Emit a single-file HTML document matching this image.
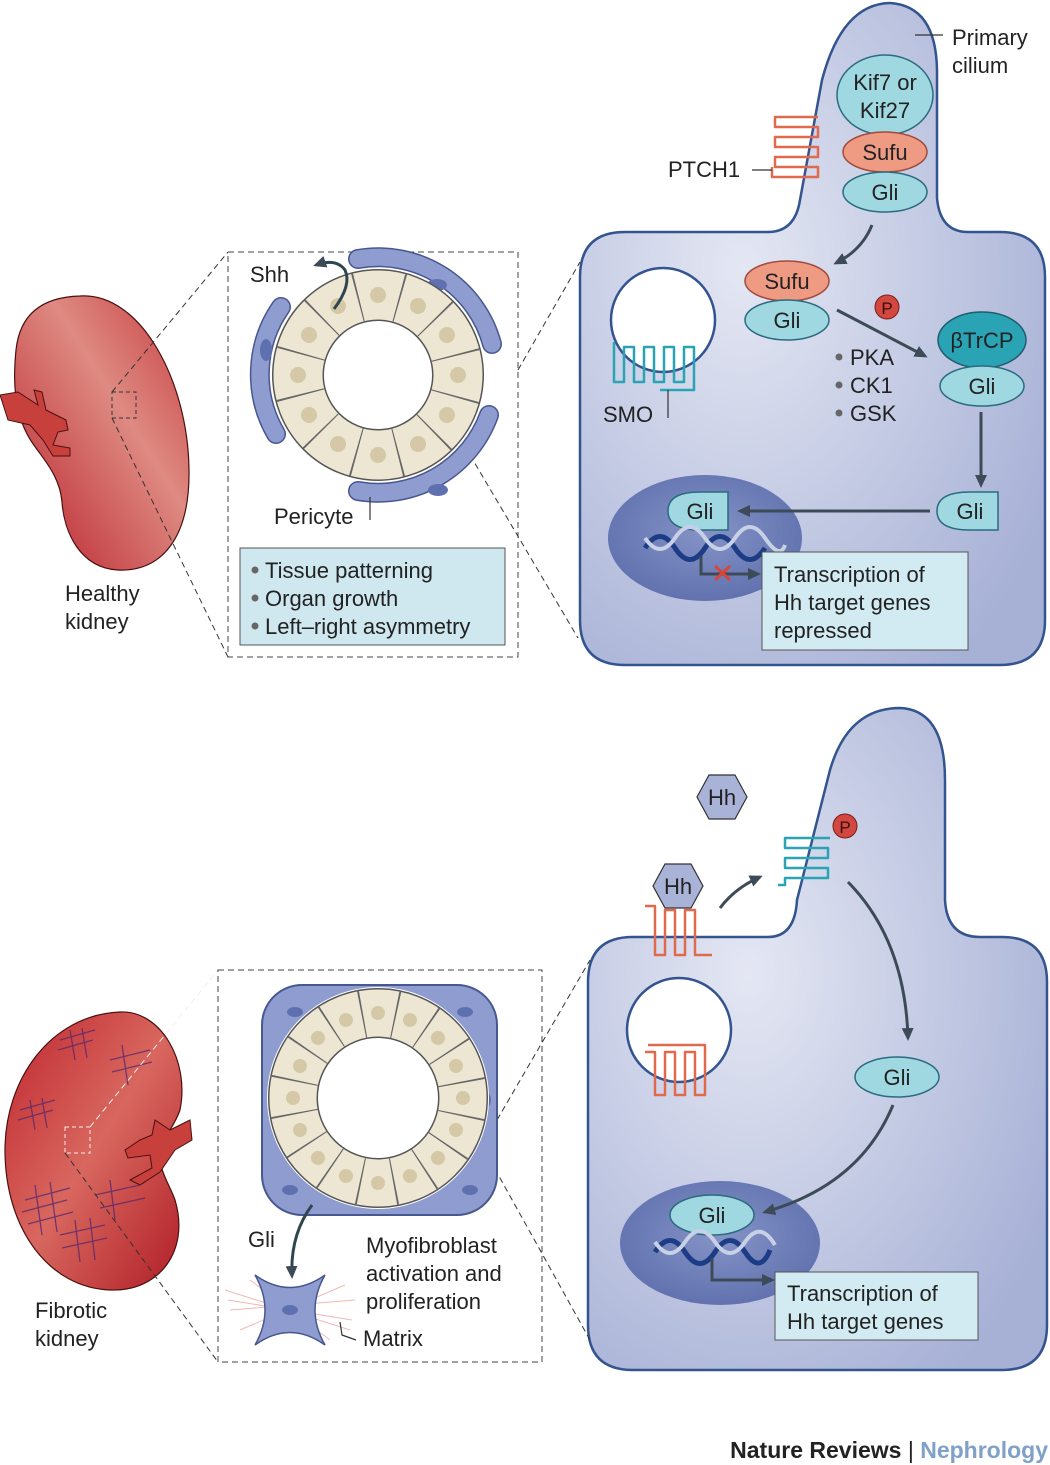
<!DOCTYPE html>
<html><head><meta charset="utf-8"><style>
html,body{margin:0;padding:0;background:#fff}
svg{display:block}
text{font-family:"Liberation Sans",sans-serif;fill:#222}
</style></head><body>
<svg width="1050" height="1465" viewBox="0 0 1050 1465" xmlns="http://www.w3.org/2000/svg">
<defs>
<radialGradient id="cell" cx="0.35" cy="0.4" r="0.75">
<stop offset="0" stop-color="#e4e7f3"/><stop offset="1" stop-color="#a7b1d6"/></radialGradient>
<radialGradient id="nuc" cx="0.5" cy="0.45" r="0.6">
<stop offset="0" stop-color="#8593c6"/><stop offset="1" stop-color="#5e6fad"/></radialGradient>
<linearGradient id="kid" x1="0" y1="1" x2="1" y2="0">
<stop offset="0" stop-color="#b81d28"/><stop offset="0.6" stop-color="#de8a82"/><stop offset="1" stop-color="#c63a3c"/></linearGradient>
<linearGradient id="kid2" x1="0" y1="0" x2="1" y2="1">
<stop offset="0" stop-color="#c0262e"/><stop offset="0.5" stop-color="#d8675f"/><stop offset="1" stop-color="#b01d26"/></linearGradient>
<marker id="ah" markerWidth="14" markerHeight="14" refX="10" refY="7" orient="auto" markerUnits="userSpaceOnUse">
<path d="M0,1 L13,7 L0,13 z" fill="#3c4b57"/></marker>
</defs>

<!-- ===== TOP CELL ===== -->
<path d="M625 232 L768 232 Q795 232 800 200 L822 80 Q842 4 890 3 Q936 6 937 70 L937 198 Q940 232 968 232 L1000 232 Q1045 232 1045 277 L1045 620 Q1045 665 1000 665 L625 665 Q580 665 580 620 L580 277 Q580 232 625 232 Z" fill="url(#cell)" stroke="#34548f" stroke-width="2.5"/>
<ellipse cx="705" cy="538" rx="97" ry="63" fill="url(#nuc)"/>
<circle cx="663" cy="320" r="52" fill="#fff" stroke="#34548f" stroke-width="2.5"/>
<path d="M614 342 L614 382 L624 382 L624 347 L634 347 L634 382 L644 382 L644 347 L654 347 L654 382 L664 382 L664 347 L674 347 L674 382 L684 382 L684 347 L694 347 L694 390 L660 390" fill="none" stroke="#2aa3b4" stroke-width="2.5" stroke-linejoin="round"/>
<line x1="668" y1="390" x2="668" y2="418" stroke="#333" stroke-width="1.2"/>
<text x="603" y="422" font-size="22">SMO</text>
<path d="M818 117 L775 117 L775 127 L818 127 L818 137 L775 137 L775 147 L818 147 L818 157 L775 157 L775 167 L818 167 L818 177 L772 177 L772 167" fill="none" stroke="#e06a4e" stroke-width="2.5" stroke-linejoin="round"/>
<line x1="752" y1="170" x2="772" y2="170" stroke="#333" stroke-width="1.2"/>
<text x="668" y="177" font-size="22">PTCH1</text>
<line x1="915" y1="35" x2="943" y2="35" stroke="#333" stroke-width="1.2"/>
<text x="952" y="45" font-size="22">Primary</text>
<text x="952" y="73" font-size="22">cilium</text>
<ellipse cx="885" cy="95" rx="48" ry="40" fill="#9fd8e1" stroke="#2a6b80" stroke-width="1.5"/>
<text x="885" y="90" font-size="22" text-anchor="middle">Kif7 or</text>
<text x="885" y="118" font-size="22" text-anchor="middle">Kif27</text>
<ellipse cx="885" cy="152" rx="42" ry="20" fill="#ef9b84" stroke="#a04a3a" stroke-width="1.5"/>
<text x="885" y="160" font-size="22" text-anchor="middle">Sufu</text>
<ellipse cx="885" cy="192" rx="42" ry="20" fill="#9fd8e1" stroke="#2a6b80" stroke-width="1.5"/>
<text x="885" y="200" font-size="22" text-anchor="middle">Gli</text>
<path d="M872 225 Q862 250 836 263" fill="none" stroke="#3c4b57" stroke-width="3" marker-end="url(#ah)"/>
<ellipse cx="787" cy="281" rx="42" ry="20" fill="#ef9b84" stroke="#a04a3a" stroke-width="1.5"/>
<text x="787" y="289" font-size="22" text-anchor="middle">Sufu</text>
<ellipse cx="787" cy="320" rx="42" ry="20" fill="#9fd8e1" stroke="#2a6b80" stroke-width="1.5"/>
<text x="787" y="328" font-size="22" text-anchor="middle">Gli</text>
<circle cx="887" cy="307" r="12" fill="#d2473f" stroke="#7a1e1a" stroke-width="1"/>
<text x="887" y="314" font-size="17" text-anchor="middle" style="fill:#3a0e0b">P</text>
<line x1="837" y1="310" x2="925" y2="356" stroke="#3c4b57" stroke-width="3" marker-end="url(#ah)"/>
<circle cx="839" cy="357" r="3.5" fill="#666"/><text x="850" y="365" font-size="22">PKA</text>
<circle cx="839" cy="385" r="3.5" fill="#666"/><text x="850" y="393" font-size="22">CK1</text>
<circle cx="839" cy="413" r="3.5" fill="#666"/><text x="850" y="421" font-size="22">GSK</text>
<ellipse cx="982" cy="340" rx="44" ry="28" fill="#2aa3b4" stroke="#1f5d6e" stroke-width="1.5"/>
<text x="982" y="348" font-size="22" text-anchor="middle">βTrCP</text>
<ellipse cx="982" cy="386" rx="42" ry="20" fill="#9fd8e1" stroke="#2a6b80" stroke-width="1.5"/>
<text x="982" y="394" font-size="22" text-anchor="middle">Gli</text>
<line x1="981" y1="412" x2="981" y2="485" stroke="#3c4b57" stroke-width="3" marker-end="url(#ah)"/>
<path d="M998 492 L998 530 L970 530 Q937 530 937 511 Q937 492 970 492 Z" fill="#9fd8e1" stroke="#2a6b80" stroke-width="1.5"/>
<text x="970" y="519" font-size="22" text-anchor="middle">Gli</text>
<line x1="930" y1="511" x2="740" y2="511" stroke="#3c4b57" stroke-width="3" marker-end="url(#ah)"/>
<path d="M728 492 L728 530 L700 530 Q668 530 668 511 Q668 492 700 492 Z" fill="#9fd8e1" stroke="#2a6b80" stroke-width="1.5"/>
<text x="700" y="519" font-size="22" text-anchor="middle">Gli</text>
<path d="M645 548 Q660 525 675 548 T705 548 T735 548 T765 548" fill="none" stroke="#1c3c86" stroke-width="5"/>
<path d="M645 538 Q660 560 675 538 T705 538 T735 538 T765 538 T785 545" fill="none" stroke="#c8d0e6" stroke-width="4"/>
<path d="M701 556 L701 574 L758 574" fill="none" stroke="#3c4b57" stroke-width="3" marker-end="url(#ah)"/>
<path d="M715 566 L730 580 M730 566 L715 580" stroke="#d8453a" stroke-width="3"/>
<rect x="762" y="552" width="206" height="98" fill="#d2ebf2" stroke="#555" stroke-width="1"/>
<text x="774" y="582" font-size="22">Transcription of</text>
<text x="774" y="610" font-size="22">Hh target genes</text>
<text x="774" y="638" font-size="22">repressed</text>

<!-- ===== TOP LEFT ===== -->
<path d="M80 296 C140 292 188 380 189 470 C190 540 160 572 118 570 C80 568 64 532 62 502 C60 478 46 462 36 448 C16 422 12 390 16 350 C20 312 45 297 80 296 Z" fill="url(#kid)" stroke="#4a1010" stroke-width="1.2"/>
<path d="M0 395 L18 392 L38 405 L34 390 L42 392 L46 410 L66 420 L68 430 L58 432 L53 445 L70 448 L70 456 L53 456 L43 440 L30 425 L8 420 Z" fill="#c8403c" stroke="#4a1010" stroke-width="1"/>
<rect x="112" y="392" width="24" height="26" fill="none" stroke="#333" stroke-width="1" stroke-dasharray="4 3"/>
<line x1="112" y1="392" x2="228" y2="252" stroke="#333" stroke-width="1" stroke-dasharray="6 4"/>
<line x1="112" y1="418" x2="228" y2="657" stroke="#333" stroke-width="1" stroke-dasharray="6 4"/>
<rect x="228" y="252" width="290" height="405" fill="#fff" stroke="#444" stroke-width="1" stroke-dasharray="6 4"/>
<line x1="518" y1="370" x2="580" y2="262" stroke="#333" stroke-width="1" stroke-dasharray="6 4"/>
<line x1="470" y1="455" x2="578" y2="638" stroke="#333" stroke-width="1" stroke-dasharray="6 4"/>
<text x="65" y="601" font-size="22">Healthy</text>
<text x="65" y="629" font-size="22">kidney</text>
<g fill="none" stroke-linecap="round">
<path d="M276 434 A118 118 0 0 1 281 307" stroke="#47578f" stroke-width="20"/>
<path d="M358 259 A118 118 0 0 1 492 344" stroke="#47578f" stroke-width="20"/>
<path d="M489 415 A118 118 0 0 1 358 491" stroke="#47578f" stroke-width="20"/>
<path d="M276 434 A118 118 0 0 1 281 307" stroke="#8f9cd0" stroke-width="17"/>
<path d="M358 259 A118 118 0 0 1 492 344" stroke="#8f9cd0" stroke-width="17"/>
<path d="M489 415 A118 118 0 0 1 358 491" stroke="#8f9cd0" stroke-width="17"/>
</g>
<ellipse cx="266" cy="350" rx="6" ry="11" fill="#5f70b0"/>
<ellipse cx="437" cy="285" rx="10" ry="6" fill="#5f70b0"/>
<ellipse cx="438" cy="490" rx="10" ry="6" fill="#5f70b0"/>
<circle cx="378" cy="375" r="80" fill="none" stroke="#555" stroke-width="52"/>
<circle cx="378" cy="375" r="80" fill="none" stroke="#ece6d3" stroke-width="49"/>
<circle cx="378" cy="375" r="80" fill="none" stroke="#666" stroke-width="49" stroke-dasharray="1.5 40.39" stroke-dashoffset="-20.9"/>
<g fill="#d5c8a6">
<circle cx="458" cy="375" r="8"/><circle cx="447" cy="415" r="8"/><circle cx="418" cy="444" r="8"/><circle cx="378" cy="455" r="8"/><circle cx="338" cy="444" r="8"/><circle cx="309" cy="415" r="8"/><circle cx="298" cy="375" r="8"/><circle cx="309" cy="335" r="8"/><circle cx="338" cy="306" r="8"/><circle cx="378" cy="295" r="8"/><circle cx="418" cy="306" r="8"/><circle cx="447" cy="335" r="8"/>
</g>
<path d="M334 309 Q352 285 345 270 Q336 258 316 265" fill="none" stroke="#2f4550" stroke-width="3" marker-end="url(#ah)"/>
<text x="250" y="282" font-size="22">Shh</text>
<line x1="370" y1="497" x2="370" y2="520" stroke="#333" stroke-width="1.2"/>
<text x="274" y="524" font-size="22">Pericyte</text>
<rect x="240" y="548" width="265" height="97" fill="#cfe8f0" stroke="#555" stroke-width="1"/>
<circle cx="255" cy="570" r="3.5" fill="#666"/><text x="265" y="578" font-size="22">Tissue patterning</text>
<circle cx="255" cy="598" r="3.5" fill="#666"/><text x="265" y="606" font-size="22">Organ growth</text>
<circle cx="255" cy="626" r="3.5" fill="#666"/><text x="265" y="634" font-size="22">Left–right asymmetry</text>

<!-- ===== BOTTOM CELL ===== -->
<path d="M633 937 L768 937 Q795 937 797 900 L830 770 Q848 708 900 708 Q945 710 945 780 L945 900 Q947 937 980 937 L1002 937 Q1047 937 1047 982 L1047 1325 Q1047 1370 1002 1370 L633 1370 Q588 1370 588 1325 L588 982 Q588 937 633 937 Z" fill="url(#cell)" stroke="#34548f" stroke-width="2.5"/>
<ellipse cx="720" cy="1243" rx="100" ry="62" fill="url(#nuc)"/>
<circle cx="679" cy="1030" r="52" fill="#fff" stroke="#34548f" stroke-width="2.5"/>
<path d="M648 1045 L705 1045 L705 1095 L695 1095 L695 1052 L685 1052 L685 1095 L675 1095 L675 1052 L665 1052 L665 1095 L655 1095 L655 1052 L645 1052" fill="none" stroke="#e06a4e" stroke-width="2.5" stroke-linejoin="round"/>
<polygon points="697,797 709,775 735,775 747,797 735,819 709,819" fill="#a9b3d8" stroke="#333" stroke-width="1.2"/>
<text x="722" y="805" font-size="22" text-anchor="middle">Hh</text>
<polygon points="653,886 665,864 691,864 703,886 691,908 665,908" fill="#a9b3d8" stroke="#333" stroke-width="1.2"/>
<text x="678" y="894" font-size="22" text-anchor="middle">Hh</text>
<path d="M645 906 L655 906 L655 955 L665 955 L665 910 L675 910 L675 955 L685 955 L685 910 L695 910 L695 955 L712 955" fill="none" stroke="#e06a4e" stroke-width="2.5" stroke-linejoin="round"/>
<path d="M720 908 Q735 888 760 877" fill="none" stroke="#3c4b57" stroke-width="3" marker-end="url(#ah)"/>
<path d="M830 838 L785 838 L785 848 L828 848 L828 858 L785 858 L785 868 L828 868 L828 878 L785 878 L785 885 L778 885" fill="none" stroke="#2aa3b4" stroke-width="2.5" stroke-linejoin="round"/>
<circle cx="845" cy="826" r="12" fill="#d2473f" stroke="#7a1e1a" stroke-width="1"/>
<text x="845" y="833" font-size="17" text-anchor="middle" style="fill:#3a0e0b">P</text>
<path d="M848 882 Q905 940 908 1038" fill="none" stroke="#3c4b57" stroke-width="3" marker-end="url(#ah)"/>
<ellipse cx="897" cy="1077" rx="42" ry="20" fill="#9fd8e1" stroke="#2a6b80" stroke-width="1.5"/>
<text x="897" y="1085" font-size="22" text-anchor="middle">Gli</text>
<path d="M893 1105 Q860 1185 765 1212" fill="none" stroke="#3c4b57" stroke-width="3" marker-end="url(#ah)"/>
<ellipse cx="712" cy="1215" rx="42" ry="20" fill="#9fd8e1" stroke="#2a6b80" stroke-width="1.5"/>
<text x="712" y="1223" font-size="22" text-anchor="middle">Gli</text>
<path d="M655 1252 Q670 1229 685 1252 T715 1252 T745 1252 T770 1250" fill="none" stroke="#1c3c86" stroke-width="5"/>
<path d="M655 1242 Q670 1264 685 1242 T715 1242 T745 1242 T775 1245" fill="none" stroke="#c8d0e6" stroke-width="4"/>
<path d="M712 1258 L712 1280 L772 1280" fill="none" stroke="#3c4b57" stroke-width="3" marker-end="url(#ah)"/>
<rect x="775" y="1272" width="203" height="68" fill="#d2ebf2" stroke="#555" stroke-width="1"/>
<text x="787" y="1301" font-size="22">Transcription of</text>
<text x="787" y="1329" font-size="22">Hh target genes</text>

<!-- ===== BOTTOM LEFT ===== -->
<path d="M120 1012 C160 1010 190 1060 180 1110 C175 1125 165 1135 160 1150 C158 1170 170 1185 175 1200 C190 1250 160 1292 110 1290 C50 1288 5 1230 5 1150 C5 1080 50 1015 120 1012 Z" fill="url(#kid2)" stroke="#4a1010" stroke-width="1.2"/>
<path d="M190 1120 L170 1130 L155 1120 L152 1135 L140 1140 L125 1150 L128 1158 L150 1155 L152 1168 L130 1180 L140 1185 L160 1172 L175 1150 L192 1140 Z" fill="#c8403c" stroke="#4a1010" stroke-width="1"/>
<g stroke="#5a2a6a" stroke-width="1.3" opacity="0.8">
<path d="M60 1040 L95 1030 M58 1050 L93 1040 M70 1030 L75 1060 M82 1028 L87 1058"/>
<path d="M20 1110 L55 1100 M18 1120 L53 1110 M30 1100 L35 1130 M42 1098 L47 1128"/>
<path d="M25 1200 L70 1188 M22 1212 L67 1200 M28 1224 L73 1212 M35 1185 L42 1235 M50 1182 L57 1232"/>
<path d="M60 1235 L105 1225 M62 1248 L107 1238 M75 1220 L80 1262 M90 1218 L95 1260"/>
<path d="M110 1060 L150 1050 M112 1072 L152 1062 M122 1045 L128 1085"/>
<path d="M95 1195 L140 1185 M100 1208 L145 1198 M110 1180 L115 1220"/>
</g>
<rect x="65" y="1127" width="25" height="26" fill="none" stroke="#eee" stroke-width="1" stroke-dasharray="4 3"/>
<line x1="90" y1="1127" x2="218" y2="970" stroke="#eee" stroke-width="1" stroke-dasharray="6 4"/>
<line x1="65" y1="1153" x2="218" y2="1362" stroke="#333" stroke-width="1" stroke-dasharray="6 4"/>
<rect x="218" y="970" width="324" height="392" fill="#fff" stroke="#444" stroke-width="1" stroke-dasharray="6 4"/>
<line x1="497" y1="1120" x2="590" y2="960" stroke="#333" stroke-width="1" stroke-dasharray="6 4"/>
<line x1="490" y1="1160" x2="590" y2="1340" stroke="#333" stroke-width="1" stroke-dasharray="6 4"/>
<text x="35" y="1318" font-size="22">Fibrotic</text>
<text x="35" y="1346" font-size="22">kidney</text>
<rect x="262" y="985" width="235" height="230" rx="40" fill="#8f9cd0" stroke="#47578f" stroke-width="2"/>
<g fill="#5f70b0">
<ellipse cx="295" cy="1012" rx="8" ry="5"/><ellipse cx="465" cy="1012" rx="8" ry="5"/><ellipse cx="290" cy="1190" rx="8" ry="5"/><ellipse cx="470" cy="1190" rx="8" ry="5"/><ellipse cx="275" cy="1100" rx="4" ry="7"/><ellipse cx="487" cy="1100" rx="4" ry="7"/>
</g>
<circle cx="378" cy="1098" r="111" fill="#fff"/>
<circle cx="378" cy="1098" r="85" fill="none" stroke="#555" stroke-width="50"/>
<circle cx="378" cy="1098" r="85" fill="none" stroke="#ece6d3" stroke-width="47"/>
<circle cx="378" cy="1098" r="85" fill="none" stroke="#666" stroke-width="47" stroke-dasharray="1.5 31.88" stroke-dashoffset="-16.7"/>
<g fill="#d5c8a6">
<circle cx="463" cy="1098" r="7"/><circle cx="456" cy="1130" r="7"/><circle cx="438" cy="1158" r="7"/><circle cx="410" cy="1176" r="7"/><circle cx="378" cy="1183" r="7"/><circle cx="346" cy="1176" r="7"/><circle cx="318" cy="1158" r="7"/><circle cx="300" cy="1130" r="7"/><circle cx="293" cy="1098" r="7"/><circle cx="300" cy="1066" r="7"/><circle cx="318" cy="1038" r="7"/><circle cx="346" cy="1020" r="7"/><circle cx="378" cy="1013" r="7"/><circle cx="410" cy="1020" r="7"/><circle cx="438" cy="1038" r="7"/><circle cx="456" cy="1066" r="7"/>
</g>
<path d="M312 1205 Q290 1235 292 1276" fill="none" stroke="#2f4550" stroke-width="3" marker-end="url(#ah)"/>
<text x="248" y="1247" font-size="22">Gli</text>
<g stroke="#f0b8b4" stroke-width="1">
<path d="M225 1290 L350 1330 M230 1310 L355 1300 M240 1330 L345 1285 M228 1300 L352 1320 M250 1280 L330 1340"/>
</g>
<path d="M255 1275 Q290 1300 325 1275 Q305 1310 325 1345 Q290 1320 255 1345 Q275 1310 255 1275 Z" fill="#8f9cd0" stroke="#47578f" stroke-width="1.5"/>
<ellipse cx="290" cy="1310" rx="8" ry="5" fill="#5f70b0"/>
<path d="M340 1322 L342 1335 L356 1340" fill="none" stroke="#333" stroke-width="1.2"/>
<text x="366" y="1253" font-size="22">Myofibroblast</text>
<text x="366" y="1281" font-size="22">activation and</text>
<text x="366" y="1309" font-size="22">proliferation</text>
<text x="363" y="1346" font-size="22">Matrix</text>

<text x="1048" y="1458" font-size="23" font-weight="bold" text-anchor="end"><tspan>Nature Reviews</tspan><tspan font-weight="normal"> | </tspan><tspan style="fill:#7fa0c8">Nephrology</tspan></text>
</svg>
</body></html>
